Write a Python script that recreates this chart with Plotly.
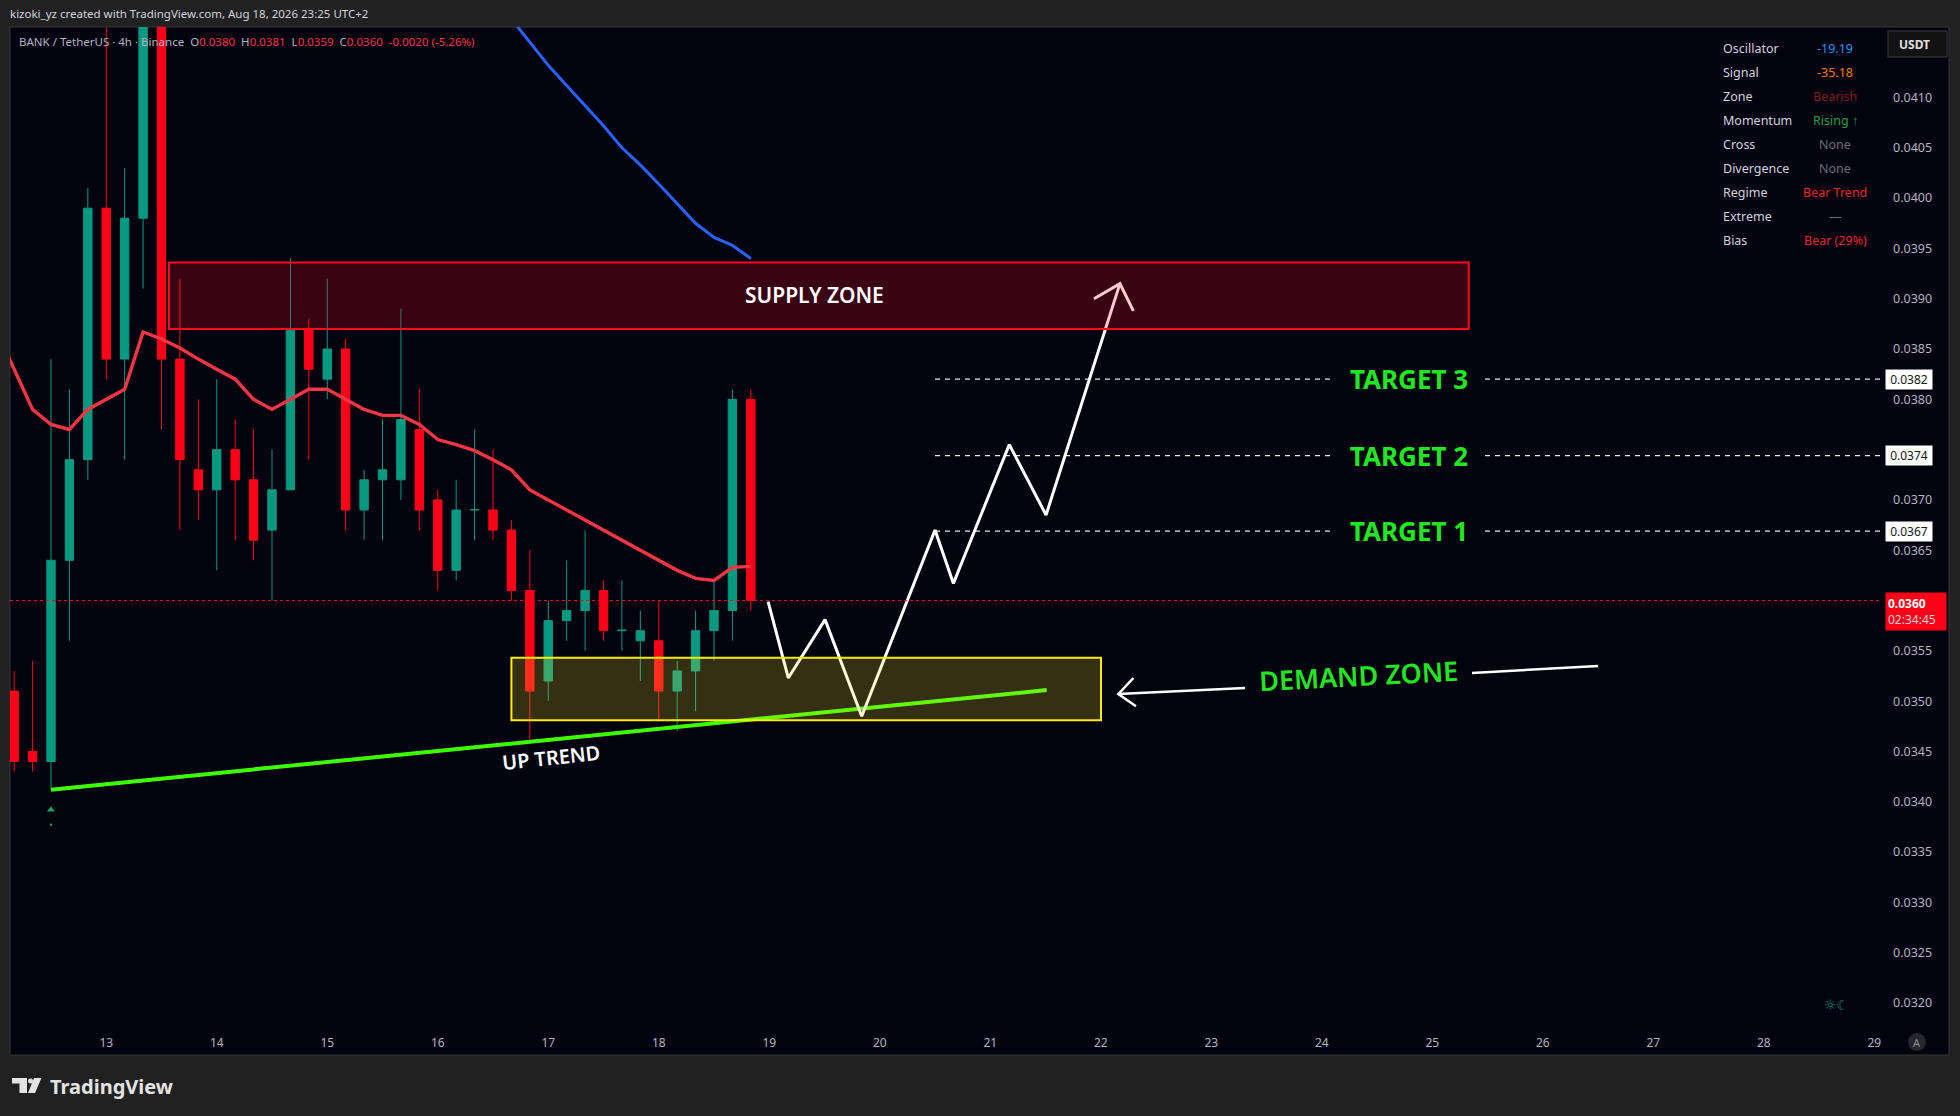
#!/usr/bin/env python3

import pandas as pd
import plotly.graph_objects as go

W, H = 1960, 1116
BG = "#212121"
PANEL = "#03020f"
UP = "#089981"
DOWN = "#ff0019"
GREEN_TXT = "#22e622"
AXIS_TXT = "#b2b5be"
FONT = "Noto Sans"

# 4h candles BANK / TetherUS, first one opens Aug 12 04:00
CANDLE_TIMES = pd.date_range("2026-08-12 04:00", periods=41, freq="4h")
OPEN = [0.03510, 0.03450, 0.03440, 0.03640, 0.03740, 0.03990, 0.03840, 0.03980, 0.04300, 0.03840,
        0.03730, 0.03710, 0.03750, 0.03720, 0.03670, 0.03710, 0.03870, 0.03820, 0.03850, 0.03690,
        0.03720, 0.03720, 0.03770, 0.03700, 0.03630, 0.03690, 0.03690, 0.03670, 0.03610, 0.03520,
        0.03580, 0.03590, 0.03610, 0.03570, 0.03560, 0.03560, 0.03510, 0.03530, 0.03570, 0.03590,
        0.03800]
HIGH = [0.03530, 0.03540, 0.03840, 0.03810, 0.04010, 0.04250, 0.04030, 0.04400, 0.04420, 0.03920,
        0.03800, 0.03820, 0.03780, 0.03770, 0.03750, 0.03940, 0.03880, 0.03920, 0.03860, 0.03730,
        0.03780, 0.03890, 0.03810, 0.03710, 0.03720, 0.03770, 0.03750, 0.03680, 0.03650, 0.03600,
        0.03640, 0.03670, 0.03620, 0.03620, 0.03590, 0.03600, 0.03540, 0.03590, 0.03620, 0.03810,
        0.03810]
LOW = [0.03430, 0.03430, 0.03412, 0.03560, 0.03720, 0.03820, 0.03740, 0.03910, 0.03770, 0.03670,
       0.03680, 0.03630, 0.03660, 0.03640, 0.03600, 0.03710, 0.03740, 0.03800, 0.03670, 0.03660,
       0.03660, 0.03700, 0.03670, 0.03610, 0.03620, 0.03660, 0.03660, 0.03600, 0.03460, 0.03500,
       0.03560, 0.03550, 0.03560, 0.03550, 0.03520, 0.03480, 0.03470, 0.03490, 0.03540, 0.03560,
       0.03590]
CLOSE = [0.03440, 0.03440, 0.03640, 0.03740, 0.03990, 0.03840, 0.03980, 0.04300, 0.03840, 0.03740,
         0.03710, 0.03750, 0.03720, 0.03660, 0.03710, 0.03870, 0.03830, 0.03850, 0.03690, 0.03720,
         0.03730, 0.03780, 0.03690, 0.03630, 0.03690, 0.036905, 0.03670, 0.03610, 0.03510, 0.03580,
         0.03590, 0.03610, 0.03570, 0.035705, 0.03570, 0.03510, 0.03530, 0.03570, 0.03590, 0.03800,
         0.03600]

# red moving average (one value per candle, plus the candle before the first one)
EMA_TIMES = pd.date_range("2026-08-12 00:00", periods=42, freq="4h")
EMA_RED = [0.03870, 0.03830, 0.03790, 0.03775, 0.03770, 0.03790, 0.03800, 0.03810, 0.03867, 0.03860,
           0.03851, 0.03840, 0.03830, 0.03820, 0.03800, 0.03790, 0.03800, 0.03810, 0.03810, 0.03800,
           0.03790, 0.03784, 0.03784, 0.03775, 0.03760, 0.03755, 0.03749, 0.03740, 0.03730, 0.03710,
           0.03700, 0.03690, 0.03680, 0.03670, 0.03660, 0.03650, 0.03640, 0.03630, 0.03622, 0.03620,
           0.03633, 0.03634]

# blue moving average, only visible from Aug 16 16:00
BLUE_TIMES = pd.date_range("2026-08-16 16:00", periods=14, freq="4h")
BLUE_MA = [0.04178, 0.04155, 0.04132, 0.04112, 0.04092, 0.04072, 0.04050, 0.04033, 0.04014, 0.03995,
           0.03975, 0.03961, 0.03953, 0.03940]

LAST_PRICE = 0.0360
TARGETS = [0.03820, 0.03744, 0.03669]
TARGET_NAMES = ["TARGET 3", "TARGET 2", "TARGET 1"]
TARGET_LABELS = ["0.0382", "0.0374", "0.0367"]

SUPPLY_TIME = ["2026-08-13 13:38", "2026-08-25 07:55"]
SUPPLY_PRICE = [0.03870, 0.03936]
DEMAND_TIME = ["2026-08-16 16:00", "2026-08-22 00:03"]
DEMAND_PRICE = [0.03481, 0.03543]

TREND_TIME = ["2026-08-12 12:00", "2026-08-21 12:16"]
TREND_PRICE = [0.03412, 0.03511]

PATH_TIME = ["2026-08-18 23:45", "2026-08-19 04:08", "2026-08-19 12:07", "2026-08-19 20:05",
             "2026-08-20 12:00", "2026-08-20 16:00", "2026-08-21 04:08", "2026-08-21 12:07",
             "2026-08-22 04:10"]
PATH_PRICE = [0.03599, 0.03523, 0.03581, 0.03485, 0.03670, 0.03617, 0.03755, 0.03685, 0.03915]
PATH_HEAD_TIME = ["2026-08-21 22:32", "2026-08-22 04:10", "2026-08-22 07:05"]
PATH_HEAD_PRICE = [0.03900, 0.03915, 0.03888]

ARROW_TIME = ["2026-08-23 07:19", "2026-08-22 03:49"]
ARROW_PRICE = [0.03513, 0.03507]
ARROW_HEAD_TIME = ["2026-08-22 07:05", "2026-08-22 03:49", "2026-08-22 07:39"]
ARROW_HEAD_PRICE = [0.03523, 0.03507, 0.03495]
TAIL_TIME = ["2026-08-25 08:38", "2026-08-26 12:00"]
TAIL_PRICE = [0.03528, 0.03535]

TABLE_LABELS = ["Oscillator", "Signal", "Zone", "Momentum", "Cross", "Divergence", "Regime", "Extreme", "Bias"]
TABLE_VALUES = ["-19.19", "-35.18", "Bearish", "Rising \u2191", "None", "None", "Bear Trend", "\u2014", "Bear (29%)"]
TABLE_COLORS = ["#2196f3", "#f57c00", "#7f1c24", "#22a045", "#6a6d78", "#6a6d78", "#e0282e", "#6a6d78", "#e0282e"]

DAY_TICKS = [f"2026-08-{d}" for d in range(13, 30)]
DAY_TEXT = [str(d) for d in range(13, 30)]
PRICE_TICKS = [round(0.0320 + 0.0005 * k, 4) for k in range(19)]
# these two sit under the price label boxes on the right
HIDDEN_TICKS = [0.0360, 0.0375]

X_RANGE = ["2026-08-12 03:05:44", "2026-08-29 01:41:00"]
Y_RANGE = [0.031731, 0.041701]


def px(x, y):
    """pixel position -> paper coordinates"""
    return x / W, 1 - y / H


def note(fig, x, y, text, size, color, anchor="left", **kw):
    """text placed by pixel position"""
    xp, yp = px(x, y)
    fig.add_annotation(xref="paper", yref="paper", x=xp, y=yp, xanchor=anchor, yanchor="middle",
                       showarrow=False, text=text, font=dict(family=FONT, size=size, color=color), **kw)


def add_series(fig):
    fig.add_trace(go.Candlestick(
        x=CANDLE_TIMES, open=OPEN, high=HIGH, low=LOW, close=CLOSE,
        increasing=dict(line=dict(color=UP, width=1), fillcolor=UP),
        decreasing=dict(line=dict(color=DOWN, width=1), fillcolor=DOWN),
        hoverinfo="skip"
    ))
    fig.add_trace(go.Scatter(x=EMA_TIMES, y=EMA_RED, mode="lines",
                             line=dict(color="#f23645", width=3.4)))
    fig.add_trace(go.Scatter(x=BLUE_TIMES, y=BLUE_MA, mode="lines",
                             line=dict(color="#2962ff", width=3)))


def add_drawings(fig):
    # up trend line + signal marker
    fig.add_trace(go.Scatter(x=TREND_TIME, y=TREND_PRICE, mode="lines",
                             line=dict(color="#3cff00", width=4)))
    fig.add_trace(go.Scatter(x=[TREND_TIME[0]], y=[0.03392], mode="markers",
                             marker=dict(symbol="triangle-up", size=7, color="#1fa35a")))
    fig.add_trace(go.Scatter(x=[TREND_TIME[0]], y=[0.03377], mode="markers",
                             marker=dict(symbol="circle", size=2.5, color="#1fa35a")))

    # target levels
    for price in TARGETS:
        fig.add_trace(go.Scatter(x=["2026-08-20 12:00", X_RANGE[1]], y=[price, price], mode="lines",
                                 line=dict(color="#e8e8e8", width=1.2, dash="5px,5px")))

    # projected path
    fig.add_trace(go.Scatter(x=PATH_TIME, y=PATH_PRICE, mode="lines",
                             line=dict(color="white", width=3)))
    fig.add_trace(go.Scatter(x=PATH_HEAD_TIME, y=PATH_HEAD_PRICE, mode="lines",
                             line=dict(color="white", width=3)))

    # arrow to the demand zone
    for xs, ys in [(ARROW_TIME, ARROW_PRICE), (ARROW_HEAD_TIME, ARROW_HEAD_PRICE), (TAIL_TIME, TAIL_PRICE)]:
        fig.add_trace(go.Scatter(x=xs, y=ys, mode="lines", line=dict(color="white", width=2.5)))

    # zones drawn on top, semi transparent
    fig.add_shape(type="rect", xref="x", yref="y", layer="above",
                  x0=SUPPLY_TIME[0], x1=SUPPLY_TIME[1], y0=SUPPLY_PRICE[0], y1=SUPPLY_PRICE[1],
                  fillcolor="rgba(255,10,40,0.22)", line=dict(color="#ff0a1e", width=2))
    fig.add_shape(type="rect", xref="x", yref="y", layer="above",
                  x0=DEMAND_TIME[0], x1=DEMAND_TIME[1], y0=DEMAND_PRICE[0], y1=DEMAND_PRICE[1],
                  fillcolor="rgba(255,230,40,0.2)", line=dict(color="#ffee00", width=2))

    # last price dotted line
    fig.add_shape(type="line", xref="paper", yref="y", x0=10 / W, x1=1882 / W,
                  y0=LAST_PRICE, y1=LAST_PRICE, line=dict(color=DOWN, width=1, dash="dot"))

    fig.add_annotation(x="2026-08-19 09:56", y=0.03904, text="SUPPLY ZONE", showarrow=False,
                       font=dict(family=FONT, size=21, color="white", weight=600))
    fig.add_annotation(x="2026-08-17 00:36", y=0.03444, text="UP TREND", showarrow=False, textangle=-6,
                       font=dict(family=FONT, size=20, color="white", weight=600))
    fig.add_annotation(x="2026-08-24 08:05", y=0.03525, text="DEMAND ZONE", showarrow=False, textangle=-3,
                       font=dict(family=FONT, size=27, color=GREEN_TXT, weight=600))
    for name, price in zip(TARGET_NAMES, TARGETS):
        fig.add_annotation(x="2026-08-24 18:58", y=price, text="<b>%s</b>" % name, showarrow=False,
                           bgcolor=PANEL, width=148, height=28,
                           font=dict(family=FONT, size=26, color=GREEN_TXT))


def add_price_labels(fig):
    for txt, price in zip(TARGET_LABELS, TARGETS):
        fig.add_annotation(xref="paper", yref="y", x=1885 / W, y=price, xanchor="left", text=txt,
                           showarrow=False, bgcolor="white", borderpad=1, width=44,
                           font=dict(family=FONT, size=12, color="#131722"))
    fig.add_annotation(xref="paper", yref="y", x=1885 / W, y=LAST_PRICE, xanchor="left", yanchor="top",
                       yshift=9, align="left", showarrow=False, bgcolor=DOWN, borderpad=2, width=56,
                       text="<b>0.0360</b><br><span style='color:#ffd0d4'>02:34:45</span>",
                       font=dict(family=FONT, size=12, color="white"))


def add_overlay_text(fig):
    note(fig, 8, 14, "kizoki_yz created with TradingView.com, Aug 18, 2026 23:25 UTC+2", 11.5, "#d1d4dc")
    sp = "\u00a0"
    red = "#f23645"
    legend = ("BANK / TetherUS \u00b7 4h \u00b7 Binance" + sp * 2
              + "O<span style='color:%s'>0.0380</span>" % red + sp * 2
              + "H<span style='color:%s'>0.0381</span>" % red + sp * 2
              + "L<span style='color:%s'>0.0359</span>" % red + sp * 2
              + "C<span style='color:%s'>0.0360</span>" % red + sp * 2
              + "<span style='color:%s'>-0.0020 (-5.26%%)</span>" % red)
    note(fig, 17, 41.5, legend, 11.5, AXIS_TXT)

    # indicator table
    for k, (lab, val, col) in enumerate(zip(TABLE_LABELS, TABLE_VALUES, TABLE_COLORS)):
        row_y = 48.3 + 24 * k
        note(fig, 1721, row_y, lab, 12.5, "#d1d4dc")
        note(fig, 1835, row_y, val, 12.5, col, anchor="center")

    # USDT button
    fig.add_shape(type="rect", xref="paper", yref="paper", x0=1888 / W, x1=1947 / W,
                  y0=1 - 57 / H, y1=1 - 31 / H, fillcolor="#121212", line=dict(color="#3a3a3a", width=1))
    note(fig, 1897, 44, "<b>USDT</b>", 12, "#e0e0e0")

    # bottom right icons
    fig.add_shape(type="circle", xref="paper", yref="paper", x0=1908 / W, x1=1926 / W,
                  y0=1 - 1051 / H, y1=1 - 1033 / H, fillcolor="#26262b", line=dict(width=0))
    note(fig, 1917, 1042, "A", 11, "#8a8d96", anchor="center")
    xp, yp = px(1851, 1005)
    fig.add_annotation(xref="paper", yref="paper", x=xp, y=yp, yanchor="middle", showarrow=False,
                       text="\u263c\u263e", font=dict(family="DejaVu Sans", size=14, color=UP))

    # TradingView logo at the bottom
    logo = "#e3e3e3"
    for x0, y0, x1, y1 in [(12, 1078, 27, 1083.5), (19.5, 1078, 27, 1093)]:
        fig.add_shape(type="rect", xref="paper", yref="paper", x0=x0 / W, x1=x1 / W,
                      y0=1 - y1 / H, y1=1 - y0 / H, fillcolor=logo, line=dict(width=0))
    fig.add_shape(type="circle", xref="paper", yref="paper", x0=28 / W, x1=33 / W,
                  y0=1 - 1083.5 / H, y1=1 - 1078.5 / H, fillcolor=logo, line=dict(width=0))
    fig.add_shape(type="path", xref="paper", yref="paper", fillcolor=logo, line=dict(width=0),
                  path="M %f,%f L %f,%f L %f,%f L %f,%f Z" % (34 / W, 1 - 1078 / H, 41.5 / W, 1 - 1078 / H,
                                                            35 / W, 1 - 1093 / H, 28 / W, 1 - 1093 / H))
    note(fig, 48, 1086, "<b>TradingView</b>", 20, logo)


def main():
    fig = go.Figure()

    # chart panel
    fig.add_shape(type="rect", xref="paper", yref="paper", layer="below",
                  x0=10 / W, x1=1949 / W, y0=1 - 1055 / H, y1=1 - 27 / H,
                  fillcolor=PANEL, line=dict(color="#363636", width=1))

    add_series(fig)
    add_drawings(fig)
    add_price_labels(fig)
    add_overlay_text(fig)

    tick_text = ["" if v in HIDDEN_TICKS else "%.4f" % v for v in PRICE_TICKS]

    fig.update_layout(
        width=W, height=H,
        margin=dict(l=0, r=0, t=0, b=0),
        paper_bgcolor=BG,
        plot_bgcolor=PANEL,
        showlegend=False,
        hovermode=False,
        boxgap=0.35,
        xaxis=dict(type="date", domain=[10 / W, 1882 / W], range=X_RANGE,
                   rangeslider=dict(visible=False), showgrid=False, zeroline=False,
                   tickmode="array", tickvals=DAY_TICKS, ticktext=DAY_TEXT, ticks="",
                   ticklabelstandoff=4, tickfont=dict(family=FONT, size=12, color=AXIS_TXT)),
        yaxis=dict(domain=[1 - 1030 / H, 1 - 27 / H], range=Y_RANGE, side="right",
                   showgrid=False, zeroline=False, tickmode="array", tickvals=PRICE_TICKS,
                   ticktext=tick_text, ticks="", ticklabelstandoff=10,
                   tickfont=dict(family=FONT, size=12.5, color=AXIS_TXT)),
    )

    # page body has a default 8px margin, drop it so the figure fills the window
    fig.write_html("out.html", config={"displayModeBar": False},
                   post_script="document.body.style.margin='0';"
                               "document.body.style.background='%s';" % BG)


if __name__ == "__main__":
    main()
